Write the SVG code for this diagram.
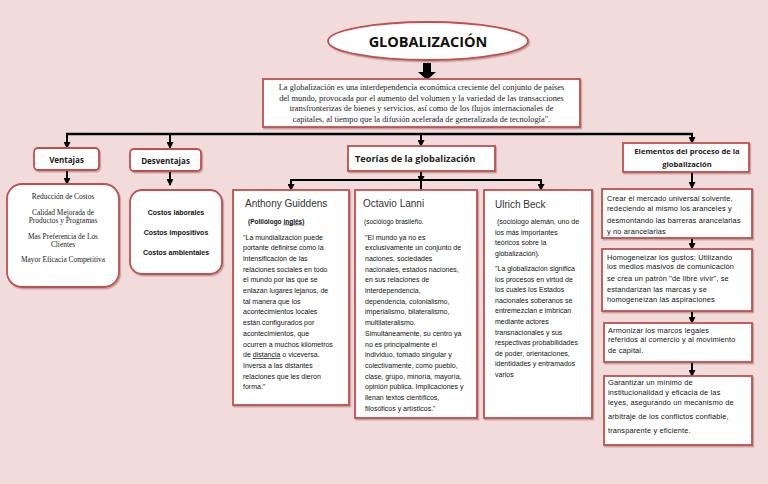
<svg xmlns="http://www.w3.org/2000/svg" width="768" height="484" viewBox="0 0 768 484">
<style>
.bx{fill:#ffffff;stroke:#c0504d;stroke-width:1.8;filter:url(#sh)}
.ln{stroke:#000;stroke-width:2;fill:none}
.ar{stroke:#000;stroke-width:2;fill:none;marker-end:url(#ah)}
.ser{font-family:"Liberation Serif","Times New Roman",serif;fill:#222}
.sans{font-family:"Liberation Sans",Arial,sans-serif;fill:#111}
.hd{font-family:"Open Sans","Liberation Sans",Arial,sans-serif;font-weight:bold;fill:#222}
.body{font-size:7px}
.el{font-size:7.4px;letter-spacing:0.15px}
.ttl{font-size:10px;fill:#333}
</style>
<defs>
<filter id="sh" x="-10%" y="-10%" width="120%" height="130%">
<feDropShadow dx="1.2" dy="1.5" stdDeviation="0.7" flood-color="#6b3030" flood-opacity="0.35"/>
</filter>
<marker id="ah" markerUnits="userSpaceOnUse" markerWidth="7" markerHeight="7" refX="6" refY="3.5" orient="auto">
<path d="M0,0 L7,3.5 L0,7 z" fill="#000"/>
</marker>
</defs>
<rect x="0" y="0" width="768" height="484" fill="#f2dcdb"/>

<g id="connectors">
<polygon points="423,63 431,63 431,72 436,72 427,80 418,72 423,72" fill="#000"/>
<line class="ln" x1="66" y1="134" x2="693" y2="134" style="stroke-width:2.3"/>
<line class="ar" x1="67" y1="134" x2="67" y2="148"/>
<line class="ar" x1="170" y1="134" x2="170" y2="148"/>
<line class="ar" x1="421" y1="134" x2="421" y2="146"/>
<line class="ar" x1="692" y1="134" x2="692" y2="143"/>
<line class="ar" x1="67" y1="170" x2="67" y2="184"/>
<line class="ar" x1="170" y1="171" x2="170" y2="185"/>
<line class="ln" x1="421" y1="171" x2="421" y2="190"/>
<line class="ar" x1="421" y1="171" x2="421" y2="182"/>
<line class="ln" x1="290" y1="180" x2="542" y2="180"/>
<line class="ar" x1="291" y1="180" x2="291" y2="190"/>
<line class="ar" x1="541" y1="180" x2="541" y2="190"/>
<line class="ar" x1="692" y1="172" x2="692" y2="188"/>
<line class="ar" x1="692" y1="238" x2="692" y2="249"/>
<line class="ar" x1="692" y1="311" x2="692" y2="323"/>
<line class="ar" x1="692" y1="362" x2="692" y2="376"/>
</g>

<g id="globalizacion">
<ellipse class="bx" cx="428" cy="41" rx="100" ry="19"/>
<text class="hd" x="428" y="46.5" font-size="14.5" text-anchor="middle" style="fill:#111">GLOBALIZACIÓN</text>
</g>

<g id="definicion">
<rect class="bx" x="263" y="79" width="317" height="48"/>
<g class="ser" font-size="8.4" text-anchor="middle">
<text x="421.5" y="90">La globalización es una interdependencia económica creciente del conjunto de países</text>
<text x="421.5" y="100.5">del mundo, provocada por el aumento del volumen y la variedad de las transacciones</text>
<text x="421.5" y="111">transfronterizas de bienes y servicios, así como de los flujos internacionales de</text>
<text x="421.5" y="121.5">capitales, al tiempo que la difusión acelerada de generalizada de tecnología".</text>
</g>
</g>

<g id="ventajas">
<rect class="bx" x="34" y="148" width="65" height="22" rx="4"/>
<text class="hd" x="66.5" y="162.5" font-size="8" text-anchor="middle">Ventajas</text>
</g>

<g id="desventajas">
<rect class="bx" x="130" y="149" width="71" height="22" rx="4"/>
<text class="hd" x="165.5" y="163.5" font-size="8" text-anchor="middle">Desventajas</text>
</g>

<g id="lista-ventajas">
<rect class="bx" x="7" y="184" width="112" height="103" rx="15"/>
<g class="ser" font-size="7.4" text-anchor="middle">
<text x="63" y="199">Reducción de Costos</text>
<text x="63" y="214.5">Calidad Mejorada de</text>
<text x="63" y="223">Productos y Programas</text>
<text x="63" y="238.5">Mas Preferencia de Los</text>
<text x="63" y="247">Clientes</text>
<text x="63" y="262">Mayor Eficacia Competitiva</text>
</g>
</g>

<g id="lista-desventajas">
<rect class="bx" x="130" y="190" width="92" height="84" rx="12"/>
<g class="sans" font-size="7" font-weight="bold" text-anchor="middle">
<text x="176" y="214.5">Costos laborales</text>
<text x="176" y="234.5">Costos impositivos</text>
<text x="176" y="254.5">Costos ambientales</text>
</g>
</g>

<g id="teorias">
<rect class="bx" x="348" y="146" width="147" height="25"/>
<text class="hd" x="355" y="162" font-size="9.2">Teorías de la globalización</text>
</g>

<g id="elementos">
<rect class="bx" x="623" y="143" width="126" height="29"/>
<g class="hd" font-size="7.6" text-anchor="middle">
<text x="687" y="154">Elementos del proceso de la</text>
<text x="687" y="167">globalización</text>
</g>
</g>

<g id="giddens">
<rect class="bx" x="233" y="190" width="116" height="215"/>
<text class="sans ttl" x="245" y="207">Anthony  Guiddens</text>
<text class="sans" x="248" y="223.5" font-size="6.5" font-weight="bold">(Polilólogo <tspan text-decoration="underline">inglés</tspan>)</text>
<g class="sans body">
<text x="243" y="239.5">"La mundialización puede</text>
<text x="243" y="250.2">portante definirse como la</text>
<text x="243" y="260.9">intensificación de las</text>
<text x="243" y="271.6">relaciones sociales en todo</text>
<text x="243" y="282.3">el mundo por las que se</text>
<text x="243" y="293">enlazan lugares lejanos, de</text>
<text x="243" y="303.7">tal manera que los</text>
<text x="243" y="314.4">acontecimientos locales</text>
<text x="243" y="325.1">están configurados por</text>
<text x="243" y="335.8">acontecimientos, que</text>
<text x="243" y="346.5">ocurren a muchos kilómetros</text>
<text x="243" y="357.2">de <tspan text-decoration="underline">distancia</tspan> o viceversa.</text>
<text x="243" y="367.9">Inversa a las distantes</text>
<text x="243" y="378.6">relaciones que les dieron</text>
<text x="243" y="389.3">forma."</text>
</g>
</g>

<g id="lanni">
<rect class="bx" x="355" y="190" width="122" height="228"/>
<text class="sans ttl" x="363" y="207">Octavio Lanni</text>
<text class="sans" x="364" y="223.5" font-size="6.5">(sociólogo brasileño.</text>
<g class="sans body">
<text x="365" y="239.5">"El mundo ya no es</text>
<text x="365" y="250.2">exclusivamente un conjunto de</text>
<text x="365" y="260.9">naciones, sociedades</text>
<text x="365" y="271.6">nacionales, estados naciones,</text>
<text x="365" y="282.3">en sus relaciones de</text>
<text x="365" y="293">interdependencia,</text>
<text x="365" y="303.7">dependencia, colonialismo,</text>
<text x="365" y="314.4">imperialismo, bilateralismo,</text>
<text x="365" y="325.1">multilateralismo.</text>
<text x="365" y="335.8">Simultáneamente, su centro ya</text>
<text x="365" y="346.5">no es principalmente el</text>
<text x="365" y="357.2">individuo, tomado singular y</text>
<text x="365" y="367.9">colectivamente, como pueblo,</text>
<text x="365" y="378.6">clase, grupo, minoría, mayoría,</text>
<text x="365" y="389.3">opinión pública. Implicaciones y</text>
<text x="365" y="400">llenan textos científicos,</text>
<text x="365" y="410.7">filosóficos y artísticos."</text>
</g>
</g>

<g id="beck">
<rect class="bx" x="484" y="190" width="108" height="228"/>
<text class="sans ttl" x="495" y="207.5">Ulrich Beck</text>
<g class="sans body">
<text x="497" y="224">(sociólogo alemán, uno de</text>
<text x="495" y="234.5">los más importantes</text>
<text x="495" y="245">teóricos sobre la</text>
<text x="495" y="255.5">globalización).</text>
<text x="495" y="271">"La globalización significa</text>
<text x="495" y="281.6">los procesos en virtud de</text>
<text x="495" y="292.2">los cuales los Estados</text>
<text x="495" y="302.8">nacionales soberanos se</text>
<text x="495" y="313.4">entremezclan e imbrican</text>
<text x="495" y="324">mediante actores</text>
<text x="495" y="334.6">transnacionales y sus</text>
<text x="495" y="345.2">respectivas probabilidades</text>
<text x="495" y="355.8">de poder, orientaciones,</text>
<text x="495" y="366.4">identidades y entramados</text>
<text x="495" y="377">varios</text>
</g>
</g>

<g id="elemento-1">
<rect class="bx" x="602" y="189" width="150" height="49"/>
<g class="sans el">
<text x="607" y="200.5">Crear el mercado universal solvente,</text>
<text x="607" y="210.5">redeciendo al mismo los aranceles y</text>
<text x="607" y="222.5">desmontando las barreras arancelarias</text>
<text x="607" y="234">y no arancelarias</text>
</g>
</g>

<g id="elemento-2">
<rect class="bx" x="602" y="249" width="150" height="62"/>
<g class="sans el">
<text x="607" y="259.5">Homogeneizar los gustos: Utilizando</text>
<text x="607" y="269">los medios masivos de comunicación</text>
<text x="607" y="280.5">se crea un patrón "de libre vivir", se</text>
<text x="607" y="291.5">estandarizan las marcas y se</text>
<text x="607" y="301.5">homogeneizan las aspiraciones</text>
</g>
</g>

<g id="elemento-3">
<rect class="bx" x="604" y="323" width="148" height="39"/>
<g class="sans el">
<text x="608" y="332.5">Armonizar los marcos legales</text>
<text x="608" y="342">referidos al comercio y al movimiento</text>
<text x="608" y="352.5">de capital.</text>
</g>
</g>

<g id="elemento-4">
<rect class="bx" x="604" y="376" width="148" height="69"/>
<g class="sans el">
<text x="608" y="385">Garantizar un mínimo de</text>
<text x="608" y="395">institucionalidad y eficacia de las</text>
<text x="608" y="405">leyes, asegurando un mecanismo de</text>
<text x="608" y="418.5">arbitraje de los conflictos confiable,</text>
<text x="608" y="433">transparente y eficiente.</text>
</g>
</g>
</svg>
